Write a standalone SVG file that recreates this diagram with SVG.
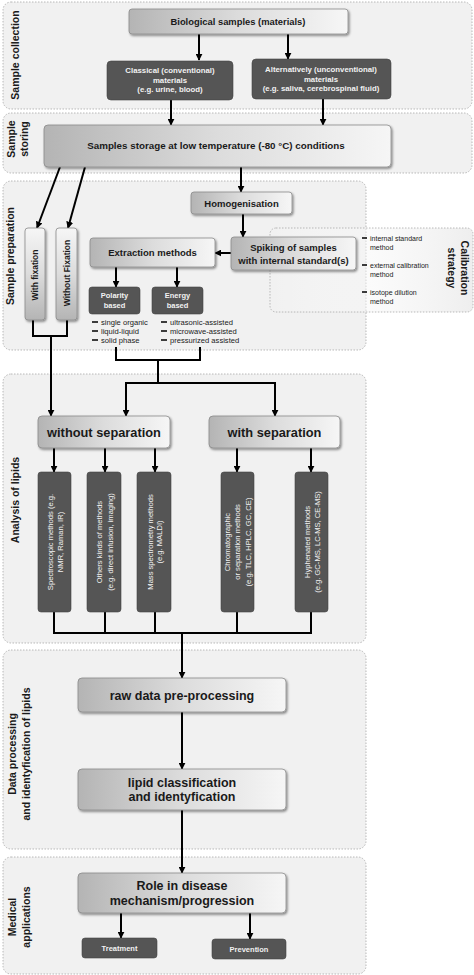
<svg xmlns="http://www.w3.org/2000/svg" width="474" height="975" viewBox="0 0 474 975">
<defs>
<linearGradient id="lg" x1="0" y1="0" x2="1" y2="0">
<stop offset="0" stop-color="#b4b4b4"/><stop offset="0.5" stop-color="#dcdcdc"/><stop offset="1" stop-color="#f6f6f6"/>
</linearGradient>
<linearGradient id="lgv" x1="0" y1="1" x2="0" y2="0">
<stop offset="0" stop-color="#b4b4b4"/><stop offset="0.5" stop-color="#dcdcdc"/><stop offset="1" stop-color="#f6f6f6"/>
</linearGradient>
<linearGradient id="cal" x1="0" y1="0" x2="1" y2="0">
<stop offset="0" stop-color="#ffffff" stop-opacity="0"/><stop offset="1" stop-color="#eeeeee"/>
</linearGradient>
<filter id="sh" x="-10%" y="-20%" width="130%" height="160%">
<feDropShadow dx="1.2" dy="1.5" stdDeviation="1" flood-color="#000" flood-opacity="0.45"/>
</filter>
<marker id="ah" viewBox="0 0 10 10" refX="9" refY="5" markerWidth="3.5" markerHeight="3.5" orient="auto" markerUnits="strokeWidth">
<path d="M0,0 L10,5 L0,10z" fill="#000"/>
</marker>
<style>
.panel{fill:#f1f1f1;stroke:#a8a8a8;stroke-width:0.8;stroke-dasharray:1.5 1.5}
.light{fill:url(#lg);stroke:#8a8a8a;stroke-width:0.8;filter:url(#sh)}
.lightv{fill:url(#lgv);stroke:#8a8a8a;stroke-width:0.8;filter:url(#sh)}
.dark{fill:#555555;stroke:#444;stroke-width:0.6}
text{font-family:"Liberation Sans",Arial,sans-serif}
.sec{font-size:10.5px;font-weight:bold;fill:#1a1a1a;text-anchor:middle}
.lt{font-size:9.4px;font-weight:bold;fill:#1a1a1a;text-anchor:middle}
.big{font-size:12.8px;font-weight:bold;fill:#1a1a1a;text-anchor:middle}
.wt{font-size:7.8px;font-weight:bold;fill:#f2f2f2;text-anchor:middle}
.vt{font-size:7.6px;fill:#f2f2f2;text-anchor:middle}
.ls{font-size:7.6px;fill:#1a1a1a}
.cl{font-size:7px;fill:#1a1a1a}
.con line,.con path{stroke:#000;stroke-width:2;fill:none}
.ar{marker-end:url(#ah)}
</style>
</defs>

<g id="panels">
<rect class="panel" x="3" y="2" width="469" height="107" rx="8"/>
<rect class="panel" x="3" y="113" width="469" height="60" rx="8"/>
<rect class="panel" x="3" y="181" width="363" height="169" rx="8"/>
<rect x="270" y="228" width="203" height="84" rx="6" fill="url(#cal)" stroke="#a8a8a8" stroke-width="0.8" stroke-dasharray="1.5 1.5"/>
<rect class="panel" x="3" y="374" width="363" height="269" rx="8"/>
<rect class="panel" x="3" y="650" width="363" height="199" rx="8"/>
<rect class="panel" x="3" y="857" width="363" height="117" rx="8"/>
</g>

<g id="section-labels">
<text class="sec" transform="translate(19,55) rotate(-90)">Sample collection</text>
<text class="sec" transform="translate(12,139) rotate(-90)"><tspan x="0" y="3">Sample</tspan><tspan x="0" y="16">storing</tspan></text>
<text class="sec" transform="translate(14,256) rotate(-90)">Sample preparation</text>
<text class="sec" transform="translate(19,500) rotate(-90)">Analysis of lipids</text>
<text class="sec" transform="translate(12,754) rotate(-90)"><tspan x="0" y="4">Data processing</tspan><tspan x="0" y="18">and identyfication of lipids</tspan></text>
<text class="sec" transform="translate(12,917) rotate(-90)"><tspan x="0" y="4">Medical</tspan><tspan x="0" y="18">applications</tspan></text>
<text class="sec" transform="translate(458,268) rotate(90)"><tspan x="0" y="-3">Calibration</tspan><tspan x="0" y="10">strategy</tspan></text>
</g>

<g id="connectors" class="con">
<line class="ar" x1="199" y1="34" x2="199" y2="60"/>
<line class="ar" x1="288" y1="34" x2="288" y2="59"/>
<line class="ar" x1="171" y1="100" x2="171" y2="125"/>
<line class="ar" x1="323" y1="99" x2="323" y2="125"/>
<line class="ar" x1="60" y1="167" x2="37" y2="228"/>
<line class="ar" x1="85" y1="167" x2="68" y2="228"/>
<line class="ar" x1="241" y1="167" x2="241" y2="192"/>
<line class="ar" x1="243" y1="214" x2="243" y2="237"/>
<line class="ar" x1="231" y1="253" x2="215" y2="253"/>
<line class="ar" x1="116" y1="267" x2="116" y2="287"/>
<line class="ar" x1="177" y1="267" x2="177" y2="287"/>
<path d="M33,320 V336 H67 V320"/>
<line class="ar" x1="51" y1="336" x2="51" y2="416"/>
<path d="M116,347 V360 H200 V347"/>
<path d="M158,360 V383"/>
<path class="ar" d="M158,383 H126 V416"/>
<path class="ar" d="M157,383 H275 V416"/>
<line class="ar" x1="54" y1="448" x2="54" y2="472"/>
<line class="ar" x1="105" y1="448" x2="105" y2="472"/>
<line class="ar" x1="155" y1="448" x2="155" y2="472"/>
<line class="ar" x1="237" y1="448" x2="237" y2="472"/>
<line class="ar" x1="311" y1="448" x2="311" y2="472"/>
<path d="M54,612 V633 H311 V612"/>
<path d="M105,612 V633 M155,612 V633 M237,612 V633"/>
<line class="ar" x1="182" y1="633" x2="182" y2="678"/>
<line class="ar" x1="182" y1="712" x2="182" y2="769"/>
<line class="ar" x1="182" y1="810" x2="182" y2="873"/>
<line class="ar" x1="121" y1="913" x2="121" y2="938"/>
<line class="ar" x1="250" y1="913" x2="250" y2="939"/>
</g>

<g id="biological-samples">
<rect class="light" x="129" y="9" width="219" height="25" rx="3"/>
<text class="lt" x="238" y="25">Biological samples (materials)</text>
</g>
<g id="classical">
<rect class="dark" x="107" y="61" width="126" height="39" rx="4"/>
<text class="wt"><tspan x="170" y="73">Classical  (conventional)</tspan><tspan x="170" y="82.5">materials</tspan><tspan x="170" y="92">(e.g. urine, blood)</tspan></text>
</g>
<g id="alternatively">
<rect class="dark" x="252" y="59" width="139" height="40" rx="4"/>
<text class="wt"><tspan x="321" y="72">Alternatively  (unconventional)</tspan><tspan x="321" y="81.5">materials</tspan><tspan x="321" y="91">(e.g. saliva,  cerebrospinal  fluid)</tspan></text>
</g>
<g id="storage">
<rect class="light" x="44" y="125" width="347" height="42" rx="4"/>
<text class="lt" style="font-size:9.8px" x="216" y="148.5">Samples storage at low temperature (-80 °C) conditions</text>
</g>
<g id="with-fixation">
<rect class="lightv" x="25" y="228" width="20" height="92" rx="3"/>
<text class="lt" style="font-size:8.5px" transform="translate(35,275) rotate(-90)" y="3">With fixation</text>
</g>
<g id="without-fixation">
<rect class="lightv" x="56" y="228" width="21" height="92" rx="3"/>
<text class="lt" style="font-size:8.5px" transform="translate(66.5,273) rotate(-90)" y="3">Without Fixation</text>
</g>
<g id="homogenisation">
<rect class="light" x="191" y="192" width="101" height="22" rx="3"/>
<text class="lt" style="font-size:9.5px" x="241.5" y="206.5">Homogenisation</text>
</g>
<g id="spiking">
<rect class="light" x="231" y="237" width="125" height="33" rx="3"/>
<text class="lt" style="font-size:9.5px"><tspan x="293.5" y="251">Spiking of samples</tspan><tspan x="293.5" y="264">with internal standard(s)</tspan></text>
</g>
<g id="extraction">
<rect class="light" x="90" y="238" width="125" height="29" rx="3"/>
<text class="lt" style="font-size:9.5px" x="152.5" y="256">Extraction methods</text>
</g>
<g id="polarity">
<rect class="dark" x="89" y="287" width="51" height="27" rx="3"/>
<text class="wt" style="font-size:7.5px"><tspan x="114.5" y="298">Polarity</tspan><tspan x="114.5" y="307.5">based</tspan></text>
</g>
<g id="energy">
<rect class="dark" x="152" y="287" width="51" height="27" rx="3"/>
<text class="wt" style="font-size:7.5px"><tspan x="177.5" y="298">Energy</tspan><tspan x="177.5" y="307.5">based</tspan></text>
</g>
<g id="polarity-list">
<path d="M92,322 H98 M92,331 H98 M92,340 H98" stroke="#000" stroke-width="1.6"/>
<text class="ls"><tspan x="101" y="324.5">single organic</tspan><tspan x="101" y="333.5">liquid-liquid</tspan><tspan x="101" y="342.5">solid phase</tspan></text>
</g>
<g id="energy-list">
<path d="M161,322 H167 M161,331 H167 M161,340 H167" stroke="#000" stroke-width="1.6"/>
<text class="ls"><tspan x="170" y="324.5">ultrasonic-assisted</tspan><tspan x="170" y="333.5">microwave-assisted</tspan><tspan x="170" y="342.5">pressurized assisted</tspan></text>
</g>
<g id="calibration-list">
<path d="M362,238 H367 M362,265 H367 M362,292 H367" stroke="#000" stroke-width="1.6"/>
<text class="cl"><tspan x="370" y="240.5">internal standard</tspan><tspan x="370" y="249.5">method</tspan><tspan x="370" y="267.5">external calibration</tspan><tspan x="370" y="276.5">method</tspan><tspan x="370" y="294.5">isotope dilution</tspan><tspan x="370" y="303.5">method</tspan></text>
</g>
<g id="without-separation">
<rect class="light" x="38" y="416" width="132" height="32" rx="4"/>
<text class="big" x="104" y="436.5">without separation</text>
</g>
<g id="with-separation">
<rect class="light" x="209" y="416" width="131" height="32" rx="4"/>
<text class="big" x="274.5" y="436.5">with separation</text>
</g>
<g id="spectroscopic">
<rect class="dark" x="38" y="472" width="33" height="140" rx="3"/>
<text class="vt" transform="translate(54.5,542) rotate(-90)"><tspan x="0" y="-2">Spectroscopic  methods (e.g.</tspan><tspan x="0" y="8.5">NMR, Raman, IR)</tspan></text>
</g>
<g id="others">
<rect class="dark" x="87" y="472" width="34" height="140" rx="3"/>
<text class="vt" transform="translate(104,542) rotate(-90)"><tspan x="0" y="-2.5">Others kinds of methods</tspan><tspan x="0" y="8.5">(e.g. direct infusion, imaging)</tspan></text>
</g>
<g id="mass">
<rect class="dark" x="137" y="472" width="34" height="140" rx="3"/>
<text class="vt" transform="translate(154,542) rotate(-90)"><tspan x="0" y="-1.5">Mass spectrometry methods</tspan><tspan x="0" y="7.5">(e.g. MALDI)</tspan></text>
</g>
<g id="chromatographic">
<rect class="dark" x="221" y="472" width="33" height="140" rx="3"/>
<text class="vt" transform="translate(237.5,542) rotate(-90)"><tspan x="0" y="-8">Chromatographic</tspan><tspan x="0" y="2.5">or separation methods</tspan><tspan x="0" y="13">(e.g. TLC, HPLC, GC, CE)</tspan></text>
</g>
<g id="hyphenated">
<rect class="dark" x="295" y="472" width="33" height="140" rx="3"/>
<text class="vt" transform="translate(311.5,542) rotate(-90)"><tspan x="0" y="-2">Hyphenated  methods</tspan><tspan x="0" y="8.5">(e.g. GC-MS, LC-MS, CE-MS)</tspan></text>
</g>
<g id="raw-data">
<rect class="light" x="78" y="678" width="208" height="34" rx="4"/>
<text class="big" style="font-size:12.5px" x="182" y="699.5">raw data pre-processing</text>
</g>
<g id="lipid-classification">
<rect class="light" x="78" y="769" width="208" height="41" rx="4"/>
<text class="big" style="font-size:12.5px"><tspan x="182" y="787">lipid classification</tspan><tspan x="182" y="801">and identyfication</tspan></text>
</g>
<g id="role">
<rect class="light" x="78" y="873" width="208" height="40" rx="4"/>
<text class="big" style="font-size:12.5px"><tspan x="182" y="890">Role in disease</tspan><tspan x="182" y="905">mechanism/progression</tspan></text>
</g>
<g id="treatment">
<rect class="dark" x="82" y="938" width="75" height="20" rx="3"/>
<text class="wt" style="font-size:7.5px" x="119.5" y="950.5">Treatment</text>
</g>
<g id="prevention">
<rect class="dark" x="212" y="939" width="74" height="20" rx="3"/>
<text class="wt" style="font-size:7.5px" x="249" y="951.5">Prevention</text>
</g>
</svg>
